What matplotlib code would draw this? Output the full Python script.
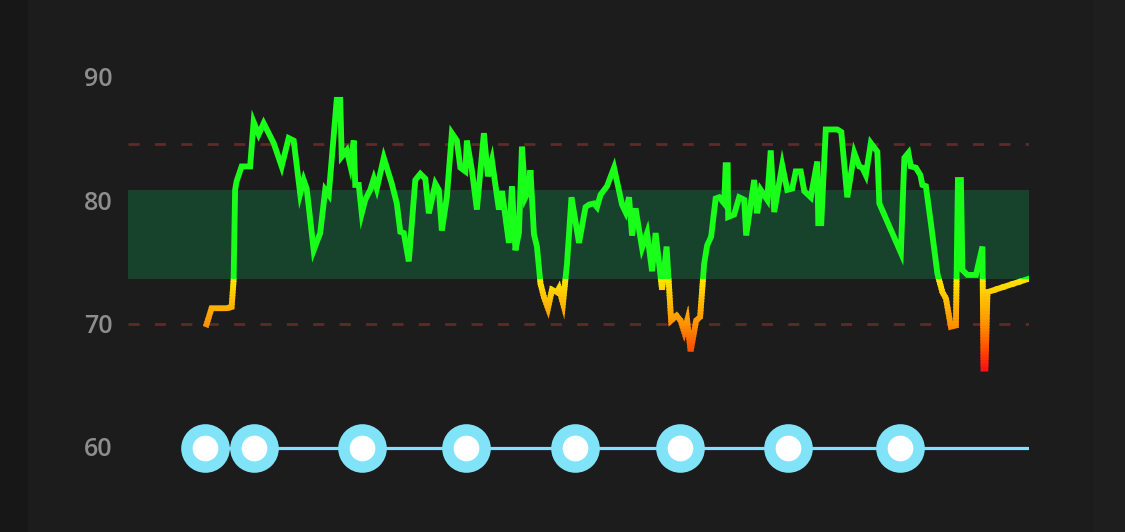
import matplotlib.pyplot as plt
from matplotlib.colors import LinearSegmentedColormap
from matplotlib.patches import Rectangle
import numpy as np

# heart rate trace (minutes, bpm)
minutes = [15.7, 16.7, 19.7, 20.7, 21.1, 21.4, 21.7, 22.7, 24.4, 25.1, 26.1, 27.1,
           29.1, 30.7, 32.1, 33.1, 34.4, 35.1, 35.7, 37.1, 38.4, 39.4, 40.1, 41.7,
           42.4, 42.7, 43.7, 44.4, 45.1, 45.4, 46.1, 46.7, 47.4, 48.4, 49.1, 49.7,
           51.1, 52.7, 53.7, 54.4, 55.1, 56.1, 57.4, 58.4, 59.4, 60.1, 60.7, 61.4,
           62.1, 62.7, 63.7, 64.7, 65.7, 66.4, 67.4, 67.7, 68.7, 69.7, 71.1, 71.9,
           72.7, 74.1, 74.7, 76.1, 76.7, 77.4, 78.1, 78.7, 79.4, 80.1, 80.4, 81.1,
           81.7, 82.4, 83.1, 83.9, 84.7, 85.7, 86.1, 86.9, 87.7, 88.6, 90.1, 91.4,
           92.1, 93.1, 93.7, 94.4, 95.7, 97.1, 98.7, 99.4, 100.1, 100.7, 101.4, 102.7,
           103.7, 104.7, 105.4, 106.7, 107.6, 108.5, 109.6, 110.4, 111.1, 111.7, 112.4,
           113.5, 114.3, 115.1, 115.7, 116.5, 117.4, 118.1, 119.1, 119.4, 119.8, 119.9,
           121.1, 122.1, 123.1, 123.5, 125.1, 125.7, 126.4, 127.7, 128.4, 129.1, 130.7,
           131.7, 132.7, 133.4, 134.4, 135.1, 136.4, 137.7, 137.9, 138.5, 139.4, 141.7,
           142.5, 143.7, 145.1, 146.1, 146.7, 147.4, 148.4, 149.7, 150.1, 154.4, 155.1,
           155.9, 156.4, 157.4, 158.3, 158.7, 159.4, 160.4, 161.7, 162.7, 163.4, 164.4,
           165.4, 165.8, 166.4, 166.7, 167.7, 169.4, 170.7, 170.9, 171.3, 171.7, 180.0]
bpm = [70.0, 71.3, 71.3, 71.4, 73.6, 80.9, 81.6, 82.8, 82.8, 86.4, 85.4, 86.3,
       84.7, 82.8, 85.1, 84.9, 80.6, 81.7, 81.0, 76.0, 77.4, 80.9, 80.5, 88.2,
       88.2, 83.6, 84.1, 82.9, 84.9, 81.3, 81.3, 79.0, 80.1, 80.9, 81.8, 81.0,
       83.5, 81.4, 79.8, 77.5, 77.4, 75.1, 81.7, 82.2, 81.8, 79.0, 80.1, 81.4,
       80.9, 77.6, 80.3, 85.5, 84.9, 82.7, 82.4, 84.9, 82.5, 79.3, 85.5, 82.0,
       83.3, 79.3, 80.8, 76.6, 81.2, 76.0, 77.4, 84.4, 80.3, 80.9, 82.5, 77.3,
       76.3, 73.3, 72.2, 71.3, 72.8, 72.6, 72.9, 71.7, 74.9, 80.3, 76.6, 79.5,
       79.7, 79.8, 79.5, 80.5, 81.2, 82.7, 79.7, 79.1, 80.3, 77.2, 79.4, 76.2,
       77.4, 74.3, 77.4, 72.8, 76.3, 70.3, 70.7, 70.3, 69.4, 70.3, 67.8,
       70.3, 70.6, 74.9, 76.4, 77.1, 80.2, 80.3, 79.8, 82.9, 82.9, 78.7,
       78.9, 80.3, 80.1, 77.2, 81.7, 79.0, 80.9, 80.1, 84.1, 79.1, 82.9,
       80.9, 81.0, 82.4, 82.4, 80.8, 80.3, 83.2, 78.2, 78.2, 85.8, 85.8,
       85.6, 80.3, 83.9, 82.8, 82.7, 82.1, 84.7, 84.0, 79.8, 75.8, 83.5,
       83.9, 82.8, 82.7, 82.1, 81.3, 81.2, 78.2, 74.1, 72.6, 72.1, 69.8,
       69.9, 81.7, 81.7, 74.4, 74.0, 74.0, 76.3, 66.4, 66.4, 72.6, 73.7]

# zones
target_low, target_high = 73.7, 80.9
limit_low, limit_high = 70.0, 84.6

# event markers on the timeline
event_minutes = [15.4, 25.2, 46.8, 67.6, 89.4, 110.2, 131.8, 154.2]
timeline_level = 60
end_minute = 180

yticks = [60, 70, 80, 90]

fig = plt.figure(figsize=(11.25, 5.32), dpi=100)
fig.patch.set_facecolor('#171717')
fig.add_artist(Rectangle((28 / 1125, 0), 1065 / 1125, 1, transform=fig.transFigure,
                         facecolor='#1c1c1c', edgecolor='none', zorder=-2))
fig.add_artist(Rectangle((1093 / 1125, 0), 32 / 1125, 1, transform=fig.transFigure,
                         facecolor='#1e1e1e', edgecolor='none', zorder=-2))

ax = fig.add_axes([128 / 1125, 0, 901 / 1125, 1])
ax.set_zorder(1)
ax.set_facecolor('none')
ax.set_xlim(0, end_minute)
ax.set_ylim(53.15, 96.3)

# target band and limit lines
ax.axhspan(target_low, target_high, color='#17432c', zorder=1, lw=0)
for lvl in (limit_low, limit_high):
    ax.axhline(lvl, color='#5e2b2b', lw=2, dashes=(4, 5.5), zorder=2)

# green part of the trace (inside/above band)
lw = 4.2
clip_top = Rectangle((0, target_low), end_minute, 50, transform=ax.transData)
ln, = ax.plot(minutes, bpm, color='#19ff19', lw=lw, solid_joinstyle='miter', zorder=4)
ln.set_clip_path(clip_top)

# gradient part of the trace below band
bottom = 66.4
cmap = LinearSegmentedColormap.from_list(
    'hr', [(0.0, '#ff1414'), (0.22, '#ff5000'), (0.5, '#ff9400'),
           (0.78, '#ffc200'), (1.0, '#ffe800')])
edges = np.linspace(bottom, target_low, 60)
for lo, hi in zip(edges[:-1], edges[1:]):
    c = cmap((lo - bottom) / (target_low - bottom))
    seg, = ax.plot(minutes, bpm, color=c, lw=lw, solid_joinstyle='miter', zorder=3)
    seg.set_clip_path(Rectangle((0, lo - 0.02), end_minute, hi - lo + 0.04,
                                transform=ax.transData))
seg, = ax.plot(minutes, bpm, color=cmap(0.0), lw=lw, solid_joinstyle='miter', zorder=3)
seg.set_clip_path(Rectangle((0, 50), end_minute, bottom - 50, transform=ax.transData))

# timeline with event markers
ax.plot([event_minutes[0], end_minute], [timeline_level, timeline_level],
        color='#80e3f8', lw=2.3, zorder=5, solid_capstyle='butt')
ax.scatter(event_minutes, [timeline_level] * len(event_minutes), s=35 ** 2,
           color='#80e3f8', zorder=6, linewidths=0)
ax.scatter(event_minutes, [timeline_level] * len(event_minutes), s=18.5 ** 2,
           color='white', zorder=7, linewidths=0)

# y labels (baseline set half a cap height below the level)
for v in yticks:
    ax.text(-15 / 5, v - 0.7, str(v), ha='right', va='baseline', color='#8e8e8e',
            fontsize=18, family=['Open Sans', 'DejaVu Sans'], fontweight='semibold')

ax.set_xticks([])
ax.set_yticks([])
for s in ax.spines.values():
    s.set_visible(False)

fig.savefig('out.png', dpi=100, facecolor=fig.get_facecolor())
